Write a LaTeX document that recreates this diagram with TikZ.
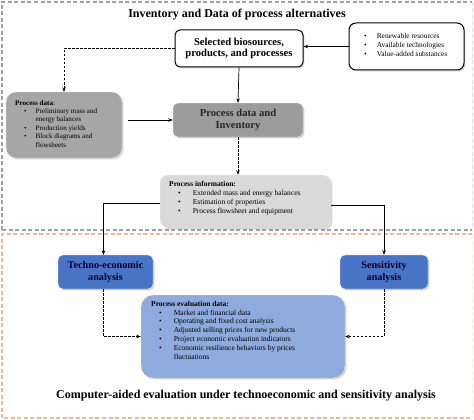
\documentclass[tikz,border=0pt]{standalone}
\usepackage{fontspec}
\setmainfont{Liberation Serif}
\usetikzlibrary{arrows.meta,shadows}
\definecolor{pdgray}{HTML}{A6A6A6}
\definecolor{pdigray}{HTML}{9C9C9C}
\definecolor{infogray}{HTML}{D9D9D9}
\definecolor{teablue}{HTML}{4A74C6}
\definecolor{evalblue}{HTML}{8FAADC}
\definecolor{regiongray}{HTML}{A0A0A0}
\definecolor{regionorange}{HTML}{F2B89A}
\begin{document}
\begin{tikzpicture}[x=1pt,y=-1pt,
  box/.style={rounded corners=5pt, inner sep=0pt, align=center,
    drop shadow={opacity=0.35,shadow xshift=1.3pt,shadow yshift=-1.3pt},
    font=\bfseries\fontsize{10.6}{12.5}\selectfont},
  arr/.style={-{Stealth[length=4.5pt,width=3.5pt]}, line width=0.7pt},
  darr/.style={arr, dash pattern=on 2.5pt off 1.5pt},
  lst/.style={inner sep=0pt, anchor=north west, align=left},
  ttl/.style={font=\bfseries\fontsize{12}{14}\selectfont}
]
\useasboundingbox (0,0) rectangle (474,420);
\fill[white] (0,0) rectangle (474,420);

% regions
\draw[regiongray, line width=1.4pt, dash pattern=on 4pt off 2.5pt] (2,230) -- (2,2) -- (472,2);
\draw[regiongray, line width=1.2pt, dash pattern=on 4pt off 2.5pt] (2,230) -- (472,230);
\draw[regiongray!30, line width=1pt, dash pattern=on 4pt off 2.5pt] (472,2) -- (472,230);
\draw[regionorange, line width=1.3pt, dash pattern=on 4pt off 2.5pt] (472,234) -- (2,234) -- (2,418) -- (472,418);
\draw[regionorange!30, line width=1pt, dash pattern=on 4pt off 2.5pt] (472,234) -- (472,418);

% titles
\node[ttl] (t1) at (237,15) {Inventory and Data of process alternatives};
\node[ttl] (t2) at (246,396) {Computer-aided evaluation under technoeconomic and sensitivity analysis};

% boxes
\node[box, draw=black, line width=1pt, fill=white, minimum width=128pt, minimum height=37pt] (sel) at (239,48.5)
  {Selected biosources,\\[-1pt] products, and processes};
\node[box, draw=black, line width=1pt, fill=white, rounded corners=7pt, minimum width=115pt, minimum height=47pt] (src) at (406.5,46.5) {};
\node[box, draw=white!85!gray, fill=pdgray, rounded corners=10pt, minimum width=116pt, minimum height=66pt] (pd) at (64,125) {};
\node[box, draw=white!85!gray, fill=pdigray, minimum width=130pt, minimum height=34pt, text=black!85] (pdi) at (238,120)
  {Process data and\\[-1pt] Inventory};
\node[box, draw=white!85!orange, fill=infogray, rounded corners=8pt, minimum width=171pt, minimum height=53pt] (pinfo) at (245.5,201.5) {};
\node[box, draw=white!85!gray, fill=teablue, minimum width=95pt, minimum height=34pt, text=black!80!blue, font=\bfseries\fontsize{10.2}{12.5}\selectfont] (tea) at (105.5,272)
  {Techno-economic\\[-1pt] analysis};
\node[box, draw=white!85!gray, fill=teablue, minimum width=88pt, minimum height=34pt, text=black!80!blue, font=\bfseries\fontsize{10.2}{12.5}\selectfont] (sa) at (384,272)
  {Sensitivity\\[-1pt] analysis};
\node[box, draw=white!80!orange, fill=evalblue, rounded corners=12pt, minimum width=204pt, minimum height=83pt] (eval) at (243,336.5) {};

% list texts
\node[lst, font=\fontsize{7.4}{9}\selectfont] (srct) at (364,32) {%
\begin{tabular}{@{}l@{\hspace{10pt}}l@{}}
\textbullet & Renewable resources\\
\textbullet & Available technologies\\
\textbullet & Value-added substances
\end{tabular}};
\node[lst, font=\fontsize{7.1}{8.4}\selectfont] (pdt) at (15,99) {%
\begin{tabular}{@{}l@{\hspace{9pt}}l@{}}
\multicolumn{2}{@{}l@{}}{\textbf{Process data}:}\\
\hspace{9pt}\textbullet & Preliminary mass and\\
 & energy balances\\
\hspace{9pt}\textbullet & Production yields\\
\hspace{9pt}\textbullet & Block diagrams and\\
 & flowsheets
\end{tabular}};
\node[lst, font=\fontsize{7.5}{9}\selectfont] (pinfot) at (169,180) {%
\begin{tabular}{@{}l@{\hspace{12pt}}l@{}}
\multicolumn{2}{@{}l@{}}{\textbf{Process information:}}\\
\hspace{9pt}\textbullet & Extended mass and energy balances\\
\hspace{9pt}\textbullet & Estimation of properties\\
\hspace{9pt}\textbullet & Process flowsheet and equipment
\end{tabular}};
\node[lst, font=\fontsize{7.5}{8.8}\selectfont] (evalt) at (151,300) {%
\begin{tabular}{@{}l@{\hspace{12pt}}l@{}}
\multicolumn{2}{@{}l@{}}{\textbf{Process evaluation data:}}\\
\hspace{8pt}\textbullet & Market and financial data\\
\hspace{8pt}\textbullet & Operating and fixed cost analysis\\
\hspace{8pt}\textbullet & Adjusted selling prices for new products\\
\hspace{8pt}\textbullet & Project economic evaluation indicators\\
\hspace{8pt}\textbullet & Economic resilience behaviors by prices\\
 & fluctuations
\end{tabular}};

% connectors
\draw[arr] (src.west) -- (sel.east |- src.west);
\draw[darr] (sel.west) -| (pd.north);
\draw[arr] (sel.south) -- (pdi.north);
\coordinate (pdout) at ([xshift=6pt]pd.east |- pdi.west);
\draw[arr] (pdout) -- (pdi.west);
\draw[darr] (pdi.south) -- (pdi.south |- pinfo.north);
\draw[arr] ([yshift=-2pt]pinfo.west) -| ([xshift=-2pt]tea.north);
\draw[arr] ([yshift=-4pt]pinfo.east) -| (sa.north);
\draw[darr] ([xshift=-2pt]tea.south) |- (eval.west);
\draw[darr] (sa.south) |- (eval.east);
\end{tikzpicture}
\end{document}
